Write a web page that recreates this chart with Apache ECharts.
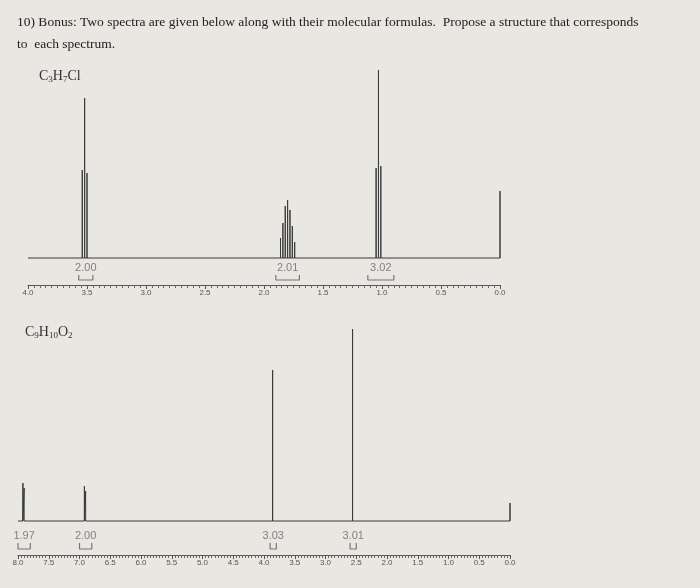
<!DOCTYPE html>
<html>
<head>
<meta charset="utf-8">
<script src="https://cdn.jsdelivr.net/npm/echarts@6/dist/echarts.min.js"></script>
<style>
  body{margin:0;background:#e9e7e2;}
  #main{width:700px;height:588px;}
</style>
</head>
<body>
<div id="main"></div>
<script>
// C3H7Cl peaks: [ppm, height]
var peaks1 = [
  [3.54, 88], [3.52, 160], [3.50, 85],
  [1.86, 20], [1.84, 35], [1.82, 52], [1.80, 58], [1.78, 48], [1.76, 32], [1.74, 16],
  [1.05, 90], [1.03, 188], [1.01, 92],
  [0.00, 67]
];
// C9H10O2 peaks
var peaks2 = [
  [7.92, 38], [7.90, 33],
  [6.92, 35], [6.90, 30],
  [3.86, 151],
  [2.56, 192],
  [0.00, 18]
];
// integrals: [from, to, label]
var integ1 = [[3.57, 3.45, '2.00'], [1.90, 1.70, '2.01'], [1.12, 0.90, '3.02']];
var integ2 = [[8.00, 7.80, '1.97'], [7.00, 6.80, '2.00'], [3.90, 3.80, '3.03'], [2.60, 2.50, '3.01']];

function stickLine(peaks, lo, hi) {
  var pts = [[hi, 0]];
  peaks.slice().sort(function(a, b){ return b[0] - a[0]; }).forEach(function(p){
    pts.push([p[0], 0], [p[0], p[1]], [p[0], 0]);
  });
  pts.push([lo, 0]);
  return pts;
}
function bracketSeries(list, idx, ytop, ybot) {
  var out = [];
  list.forEach(function(g){
    out.push({
      type: 'line', xAxisIndex: idx, yAxisIndex: idx, symbol: 'none', silent: true,
      lineStyle: {color: '#777', width: 1.2},
      data: [[g[0], ytop], [g[0], ybot], [g[1], ybot], [g[1], ytop]]
    });
  });
  out.push({
    type: 'scatter', xAxisIndex: idx, yAxisIndex: idx, symbolSize: 0, silent: true,
    data: list.map(function(g){ return [(g[0] + g[1]) / 2, ytop + 1]; }),
    label: {show: true, position: 'top', distance: 1, color: '#666', fontSize: 11,
      fontFamily: 'Liberation Sans',
      formatter: function(p){ return list[p.dataIndex][2]; }}
  });
  return out;
}
var axisCommon = {
  type: 'value', inverse: true, interval: 0.5,
  axisLine: {show: true, onZero: false, lineStyle: {color: '#555'}},
  axisTick: {show: true, length: 4, lineStyle: {color: '#555'}},
  minorTick: {show: true, splitNumber: 10, length: 3, lineStyle: {color: '#666'}},
  splitLine: {show: false},
  axisLabel: {color: '#555', fontSize: 8, margin: 4, fontFamily: 'Liberation Sans',
    formatter: function(v){ return v.toFixed(1); }}
};
var chart = echarts.init(document.getElementById('main'));
chart.setOption({
  backgroundColor: '#e9e7e2',
  animation: false,
  title: [
    {text: '10) Bonus: Two spectra are given below along with their molecular formulas.  Propose a structure that corresponds\nto  each spectrum.',
     left: 12, top: 6, textStyle: {fontFamily: 'Liberation Serif', fontSize: 13.5, fontWeight: 'normal', color: '#222', lineHeight: 22}},
    {text: 'C{s|3}H{s|7}Cl', left: 34, top: 64,
     textStyle: {fontFamily: 'Liberation Serif', fontSize: 14, fontWeight: 'normal', color: '#333', rich: {s: {fontSize: 9, verticalAlign: 'bottom', padding: [6,0,0,0], fontFamily: 'Liberation Serif'}}}},
    {text: 'C{s|9}H{s|10}O{s|2}', left: 20, top: 320,
     textStyle: {fontFamily: 'Liberation Serif', fontSize: 14, fontWeight: 'normal', color: '#333', rich: {s: {fontSize: 9, verticalAlign: 'bottom', padding: [6,0,0,0], fontFamily: 'Liberation Serif'}}}}
  ],
  grid: [
    {left: 28, right: 200, top: 68, bottom: 303},
    {left: 18, right: 190, top: 326, bottom: 33}
  ],
  xAxis: [
    Object.assign({}, axisCommon, {gridIndex: 0, min: 0, max: 4}),
    Object.assign({}, axisCommon, {gridIndex: 1, min: 0, max: 8})
  ],
  yAxis: [
    {gridIndex: 0, type: 'value', min: -27, max: 190, show: false},
    {gridIndex: 1, type: 'value', min: -34, max: 195, show: false}
  ],
  series: [
    {type: 'line', xAxisIndex: 0, yAxisIndex: 0, symbol: 'none', silent: true,
     lineStyle: {color: '#3a3a3a', width: 1}, data: stickLine(peaks1, 0.0, 4.0)},
    {type: 'line', xAxisIndex: 1, yAxisIndex: 1, symbol: 'none', silent: true,
     lineStyle: {color: '#3a3a3a', width: 1}, data: stickLine(peaks2, 0.0, 8.0)}
  ].concat(bracketSeries(integ1, 0, -17, -22), bracketSeries(integ2, 1, -22, -28))
});
</script>
</body>
</html>
